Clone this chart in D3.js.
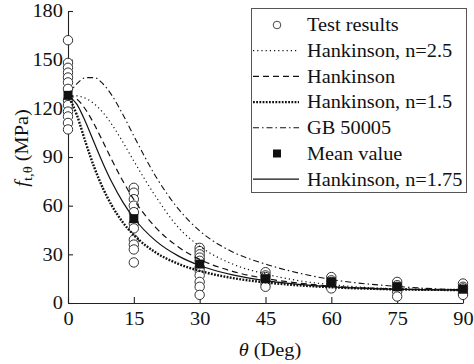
<!DOCTYPE html>
<html><head><meta charset="utf-8">
<script src="https://cdn.jsdelivr.net/npm/d3@7"></script>
<style>body{margin:0;background:#fff}svg{display:block}text{font-family:"Liberation Serif","Times New Roman",serif;fill:#111}</style>
</head><body><svg id="c" width="474" height="364"></svg>
<script>
// ---- data ----
const angles = [0, 15, 30, 45, 60, 75, 90];
const test0 = [162, 148, 145, 142, 139, 136, 132, 125, 122, 118, 115, 111, 107];
const test15 = [71, 68, 64, 60, 56, 49, 46, 39, 36, 33, 25];
const test30 = [34, 32, 30, 28, 26, 22, 20, 17, 13, 10, 5];
const test45 = [19, 17, 16, 14, 12, 10];
const test60 = [16, 14, 13, 12, 10, 9];
const test75 = [13, 11, 10, 9, 7, 4];
const test90 = [12, 10, 9, 8, 6, 5];
const meanValues = [128, 52, 24, 15, 13, 10, 8.5];
const curveAngles = [0, 2, 4, 6, 8, 10, 12.5, 15, 20, 25, 30, 37.5, 45, 52.5, 60, 75, 90];
const hank25 = [128, 127.7, 126.2, 122.7, 117.3, 110, 99.2, 87.5, 65.6, 47, 35, 24, 17.9, 13.8, 11.3, 8.7, 8];
const hank20 = [128, 125.7, 119.3, 110, 99.2, 88.1, 75.2, 63.8, 46.5, 34.8, 26.9, 19.5, 15.1, 12.3, 10.4, 8.5, 8];
const hank15 = [128, 116, 99.1, 83.5, 70.5, 60, 49.7, 41.9, 31.1, 24.3, 19.8, 15.4, 12.7, 10.9, 9.7, 8.4, 8];
const gb50005 = [128, 135.1, 138.9, 138.9, 135, 128, 116.2, 103, 78, 58.5, 44.5, 31.5, 24, 18.5, 14.5, 10.2, 8];
const hank175 = [128, 122.6, 111.6, 98.6, 85.9, 74.4, 62.2, 52.4, 38.3, 29.2, 23.1, 17.3, 13.8, 11.5, 10, 8.5, 8];
const xTicks = [0, 15, 30, 45, 60, 75, 90];
const yTicks = [0, 30, 60, 90, 120, 150, 180];
const legendLabels = ["Test results", "Hankinson, n=2.5", "Hankinson", "Hankinson, n=1.5", "GB 50005", "Mean value", "Hankinson, n=1.75"];

// ---- chart ----
const svg = d3.select("#c");
const SX = 1.13, FS = 18;
const x = d3.scaleLinear().domain([0, 90]).range([68, 463]);
const y = d3.scaleLinear().domain([0, 180]).range([303, 11]);

const xAxis = d3.axisBottom(x).tickValues(xTicks).tickSizeInner(-6).tickSizeOuter(0).tickPadding(9);
const yAxis = d3.axisLeft(y).tickValues(yTicks).tickSizeInner(-5).tickSizeOuter(0).tickPadding(4.5);
const gx = svg.append("g").attr("transform", "translate(0,303)").call(xAxis);
const gy = svg.append("g").attr("transform", "translate(68,0)").call(yAxis);
[gx, gy].forEach(g => {
  g.select(".domain").attr("stroke", "#222").attr("stroke-width", 1.1);
  g.selectAll(".tick line").attr("stroke", "#222").attr("stroke-width", 1.1);
  g.selectAll(".tick text").attr("font-size", FS).attr("font-family", "Liberation Serif").attr("fill", "#111")
    .attr("transform", `scale(${SX},1)`);
});

// test result circles
const tests = [test0, test15, test30, test45, test60, test75, test90];
const pts = [];
tests.forEach((arr, i) => arr.forEach(v => pts.push([angles[i], v])));
svg.append("g").selectAll("circle").data(pts).join("circle")
  .attr("cx", d => x(d[0])).attr("cy", d => y(d[1])).attr("r", 4.7)
  .attr("fill", "#fff").attr("stroke", "#333").attr("stroke-width", 1);

// curves
const styles = [
  {data: hank25, dash: "1.2,3", w: 1.2},
  {data: hank20, dash: "6,4", w: 1.2},
  {data: hank15, dash: "1.8,1.4", w: 2.4},
  {data: gb50005, dash: "6,3,1.5,3", w: 1.1},
  {data: hank175, dash: null, w: 1.2}
];
const line = d3.line().x(d => x(d[0])).y(d => y(d[1])).curve(d3.curveMonotoneX);
styles.forEach(s => {
  svg.append("path").datum(curveAngles.map((a, i) => [a, s.data[i]]))
    .attr("d", line).attr("fill", "none").attr("stroke", "#111")
    .attr("stroke-width", s.w).attr("stroke-dasharray", s.dash);
});

// mean squares
svg.append("g").selectAll("rect").data(angles.map((a, i) => [a, meanValues[i]])).join("rect")
  .attr("x", d => x(d[0]) - 4.5).attr("y", d => y(d[1]) - 4.5).attr("width", 9).attr("height", 9)
  .attr("fill", "#111");

// legend
const lg = svg.append("g");
lg.append("rect").attr("x", 251.5).attr("y", 8.5).attr("width", 215).attr("height", 184)
  .attr("fill", "#fff").attr("stroke", "#555").attr("stroke-width", 1);
const rowY = i => 25 + i * 25.7;
legendLabels.forEach((t, i) => {
  lg.append("text").attr("transform", `translate(307,${rowY(i)}) scale(${SX},1)`)
    .attr("dy", "0.35em").attr("font-size", FS).text(t);
});
lg.append("circle").attr("cx", 277).attr("cy", rowY(0)).attr("r", 3.8)
  .attr("fill", "#fff").attr("stroke", "#333").attr("stroke-width", 0.9);
lg.append("rect").attr("x", 273).attr("y", rowY(5) - 4).attr("width", 8).attr("height", 8).attr("fill", "#111");
const legLines = [[1, styles[0]], [2, styles[1]], [3, styles[2]], [4, styles[3]], [6, styles[4]]];
legLines.forEach(([r, s]) => {
  lg.append("line").attr("x1", 253).attr("x2", 299).attr("y1", rowY(r)).attr("y2", rowY(r))
    .attr("stroke", "#111").attr("stroke-width", s.w).attr("stroke-dasharray", s.dash);
});

// axis titles
svg.append("text").attr("transform", `translate(270,356) scale(${SX},1)`).attr("text-anchor", "middle")
  .attr("font-size", FS)
  .html('<tspan font-style="italic">θ</tspan> (Deg)');
svg.append("text").attr("transform", `translate(28,148) rotate(-90) scale(${SX},1)`).attr("text-anchor", "middle")
  .attr("font-size", FS)
  .html('<tspan font-style="italic">f</tspan><tspan font-size="13" dy="4">t,θ</tspan><tspan dy="-4"> (MPa)</tspan>');
</script></body></html>
